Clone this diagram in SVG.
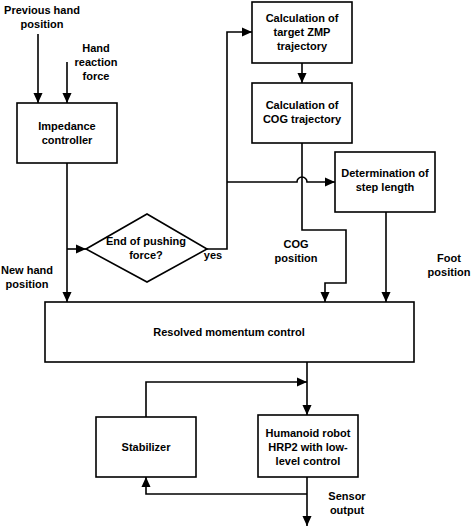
<svg xmlns="http://www.w3.org/2000/svg" width="474" height="526" viewBox="0 0 474 526">
<defs>
<marker id="ah" markerWidth="10" markerHeight="11" viewBox="0 0 11 10" refX="11" refY="5" orient="auto" markerUnits="userSpaceOnUse">
<path d="M0,0 L11,5 L0,10 Z" fill="#000"/>
</marker>
<style>
.box{fill:#fff;stroke:#000;stroke-width:1.6}
.ln{fill:none;stroke:#000;stroke-width:1.6}
.ar{fill:none;stroke:#000;stroke-width:1.6;marker-end:url(#ah)}
text{font-family:"Liberation Sans",Arial,sans-serif;font-size:11px;font-weight:bold;fill:#000;text-anchor:middle}
</style>
</defs>
<rect width="474" height="526" fill="#fff"/>
<g id="connectors">
<path class="ar" d="M38,34 V103"/>
<path class="ar" d="M67,62 V103"/>
<path class="ar" d="M67,163 V302"/>
<path class="ar" d="M67,249 H86"/>
<path class="ar" d="M207,249 H227 V32 H252"/>
<path class="ar" d="M227,182 H297 A5,5 0 0 1 307,182 H335"/>
<path class="ar" d="M302,63 V83"/>
<path class="ar" d="M302,143 V230 H346 V283 H325 V302"/>
<path class="ar" d="M386,212 V302"/>
<path class="ar" d="M307,362 V415"/>
<path class="ar" d="M146,417 V382 H307"/>
<path class="ar" d="M307,477 V526"/>
<path class="ar" d="M307,494 H146 V477"/>
</g>
<g id="labels">
<text x="42" y="14">Previous hand</text>
<text x="42" y="28">position</text>
<text x="96" y="52">Hand</text>
<text x="96" y="66">reaction</text>
<text x="96" y="80">force</text>
<text x="27" y="274">New hand</text>
<text x="27" y="288">position</text>
<text x="213" y="259">yes</text>
<text x="296" y="248">COG</text>
<text x="296" y="262">position</text>
<text x="449" y="262">Foot</text>
<text x="449" y="276">position</text>
<text x="347" y="500">Sensor</text>
<text x="347" y="514">output</text>
</g>
<g id="impedance">
<rect class="box" x="17" y="103" width="100" height="60"/>
<text x="67" y="130">Impedance</text>
<text x="67" y="144">controller</text>
</g>
<g id="zmp">
<rect class="box" x="252" y="2" width="100" height="61"/>
<text x="302" y="22">Calculation of</text>
<text x="302" y="36">target ZMP</text>
<text x="302" y="50">trajectory</text>
</g>
<g id="cog">
<rect class="box" x="252" y="83" width="100" height="60"/>
<text x="302" y="109">Calculation of</text>
<text x="302" y="123">COG trajectory</text>
</g>
<g id="step">
<rect class="box" x="335" y="152" width="100" height="60"/>
<text x="385" y="177">Determination of</text>
<text x="385" y="191">step length</text>
</g>
<g id="decision">
<path class="box" d="M86,249 L147,214 L207,249 L147,282 Z"/>
<text x="146" y="245">End of pushing</text>
<text x="146" y="259">force?</text>
</g>
<g id="resolved">
<rect class="box" x="45" y="302" width="369" height="60"/>
<text x="229" y="336">Resolved momentum control</text>
</g>
<g id="stabilizer">
<rect class="box" x="96" y="417" width="100" height="60"/>
<text x="146" y="451">Stabilizer</text>
</g>
<g id="robot">
<rect class="box" x="258" y="415" width="100" height="62"/>
<text x="308" y="437">Humanoid robot</text>
<text x="308" y="451">HRP2 with low-</text>
<text x="308" y="465">level control</text>
</g>
</svg>
